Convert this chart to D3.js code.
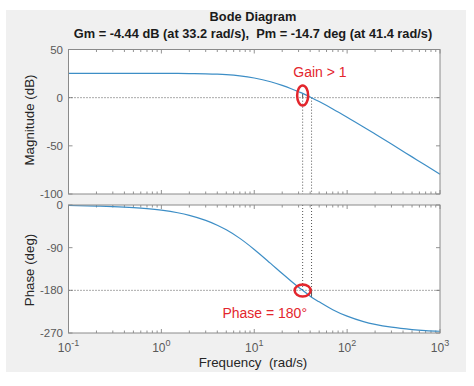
<!DOCTYPE html>
<html>
<head>
<meta charset="utf-8">
<script src="https://cdn.jsdelivr.net/npm/d3@7"></script>
<style>
  body { margin: 0; background: #fff; }
  svg { display: block; font-family: "Liberation Sans", Arial, sans-serif; }
</style>
</head>
<body>
<svg width="474" height="386"></svg>
<script>
// Frequency samples (rad/s) with magnitude (dB) and phase (deg)
var freq  = [0.1, 0.2, 0.3, 0.5, 0.7, 1, 1.5, 2, 3, 4, 5, 7, 10, 15, 20, 25, 30, 33.2, 41.4, 50, 70, 100, 150, 200, 300, 500, 700, 1000];
var mag   = [25.3, 25.3, 25.3, 25.28, 25.27, 25.24, 25.16, 25.05, 24.75, 24.34, 23.84, 22.62, 20.45, 16.55, 12.79, 9.32, 6.16, 4.44, 0, -4.07, -11.68, -20.26, -30.41, -37.76, -48.21, -61.47, -70.21, -79.5];
var phase = [-1.1, -2.2, -3.3, -5.5, -7.7, -11.0, -16.4, -21.8, -32.4, -42.6, -52.4, -70.4, -93.7, -123.2, -144.6, -160.7, -173.3, -180, -194.5, -204.3, -220.8, -234.5, -245.9, -251.8, -257.8, -262.7, -264.8, -266.3];

// Margins
var gmFreq = 33.2, gmDb = 4.44;
var pmFreq = 41.4, pmDeg = -194.7;

// Tick labels
var magTicks = [50, 0, -50, -100];
var phaseTicks = [0, -90, -180, -270];
var decades = [-1, 0, 1, 2, 3];

var svg = d3.select("svg");

// figure background
svg.append("rect")
  .attr("x", 6).attr("y", 10)
  .attr("width", 460).attr("height", 362)
  .attr("fill", "#f0f0f0");

var x = d3.scaleLog().domain([0.1, 1000]).range([68.5, 440]);
var yMag = d3.scaleLinear().domain([-100, 50]).range([194, 49.5]);
var yPh = d3.scaleLinear().domain([-270, 0]).range([333, 205]);

var red = "#e3262d";
var blue = "#3d8ec6";
var tickColor = "#595959";

function drawAxes(y, ticks) {
  var g = svg.append("g");
  var y0 = y.range()[0], y1 = y.range()[1];
  var x0 = x.range()[0], x1 = x.range()[1];

  g.append("rect")
    .attr("x", x0).attr("y", y1)
    .attr("width", x1 - x0).attr("height", y0 - y1)
    .attr("fill", "#fff");

  // x ticks on top and bottom edges
  x.ticks().forEach(function(t) {
    var major = Math.abs(Math.log10(t) - Math.round(Math.log10(t))) < 1e-9;
    var len = major ? 4 : 2.5;
    g.append("line")
      .attr("x1", x(t)).attr("x2", x(t))
      .attr("y1", y0).attr("y2", y0 - len)
      .attr("stroke", "#777").attr("stroke-width", 0.8);
    g.append("line")
      .attr("x1", x(t)).attr("x2", x(t))
      .attr("y1", y1).attr("y2", y1 + len)
      .attr("stroke", "#777").attr("stroke-width", 0.8);
  });

  // y ticks on left and right
  ticks.forEach(function(t) {
    g.append("line")
      .attr("x1", x0).attr("x2", x0 + 4)
      .attr("y1", y(t)).attr("y2", y(t))
      .attr("stroke", "#777").attr("stroke-width", 0.8);
    g.append("line")
      .attr("x1", x1).attr("x2", x1 - 4)
      .attr("y1", y(t)).attr("y2", y(t))
      .attr("stroke", "#777").attr("stroke-width", 0.8);
    g.append("text")
      .attr("x", 63).attr("y", y(t))
      .attr("dy", "0.35em")
      .attr("text-anchor", "end")
      .attr("font-size", 11.5)
      .attr("fill", tickColor)
      .text(t);
  });

  return g;
}

var gMag = drawAxes(yMag, magTicks);
var gPh = drawAxes(yPh, phaseTicks);

function dotted(g, x1, y1, x2, y2) {
  g.append("line")
    .attr("x1", x1).attr("y1", y1).attr("x2", x2).attr("y2", y2)
    .attr("stroke", "#555").attr("stroke-width", 1)
    .attr("stroke-dasharray", "1,2");
}

// margin reference lines
dotted(gMag, x(0.1), yMag(0), x(1000), yMag(0));
dotted(gMag, x(gmFreq), yMag(0), x(gmFreq), yMag(-100));
dotted(gMag, x(pmFreq), yMag(0), x(pmFreq), yMag(-100));
dotted(gPh, x(0.1), yPh(-180), x(1000), yPh(-180));
dotted(gPh, x(gmFreq), yPh(0), x(gmFreq), yPh(-180));
dotted(gPh, x(pmFreq), yPh(0), x(pmFreq), yPh(-180));

// solid margin markers
gMag.append("line")
  .attr("x1", x(gmFreq)).attr("x2", x(gmFreq))
  .attr("y1", yMag(0)).attr("y2", yMag(gmDb))
  .attr("stroke", "#555").attr("stroke-width", 1);
gPh.append("line")
  .attr("x1", x(pmFreq)).attr("x2", x(pmFreq))
  .attr("y1", yPh(-180)).attr("y2", yPh(pmDeg))
  .attr("stroke", "#555").attr("stroke-width", 1);

// curves
var magLine = d3.line()
  .x(function(d, i) { return x(freq[i]); })
  .y(function(d) { return yMag(d); })
  .curve(d3.curveMonotoneX);
var phLine = d3.line()
  .x(function(d, i) { return x(freq[i]); })
  .y(function(d) { return yPh(d); })
  .curve(d3.curveMonotoneX);

gMag.append("path").attr("d", magLine(mag))
  .attr("fill", "none").attr("stroke", blue).attr("stroke-width", 1.2);
gPh.append("path").attr("d", phLine(phase))
  .attr("fill", "none").attr("stroke", blue).attr("stroke-width", 1.2);

// axes borders on top
[yMag, yPh].forEach(function(y) {
  svg.append("rect")
    .attr("x", x.range()[0]).attr("y", y.range()[1])
    .attr("width", x.range()[1] - x.range()[0])
    .attr("height", y.range()[0] - y.range()[1])
    .attr("fill", "none").attr("stroke", "#8a8a8a").attr("stroke-width", 1);
});

// x tick labels (powers of ten)
decades.forEach(function(p) {
  var t = svg.append("text")
    .attr("x", x(Math.pow(10, p)))
    .attr("y", 352)
    .attr("text-anchor", "middle")
    .attr("font-size", 12)
    .attr("fill", tickColor);
  t.append("tspan").text("10");
  t.append("tspan").attr("dy", -6).attr("font-size", 9).text(p);
});

// titles and labels
svg.append("text")
  .attr("x", 253).attr("y", 21)
  .attr("text-anchor", "middle")
  .attr("font-size", 12.8).attr("font-weight", "bold")
  .attr("fill", "#1a1a1a")
  .text("Bode Diagram");
svg.append("text")
  .attr("x", 253).attr("y", 37.5)
  .attr("text-anchor", "middle")
  .attr("font-size", 12.8).attr("font-weight", "bold")
  .attr("fill", "#1a1a1a")
  .attr("xml:space", "preserve")
  .text("Gm = -4.44 dB (at 33.2 rad/s),  Pm = -14.7 deg (at 41.4 rad/s)");

svg.append("text")
  .attr("transform", "translate(34,120) rotate(-90)")
  .attr("text-anchor", "middle")
  .attr("font-size", 13.3)
  .attr("fill", "#262626")
  .text("Magnitude (dB)");
svg.append("text")
  .attr("transform", "translate(34,270) rotate(-90)")
  .attr("text-anchor", "middle")
  .attr("font-size", 13.3)
  .attr("fill", "#262626")
  .text("Phase (deg)");
svg.append("text")
  .attr("x", 253).attr("y", 367)
  .attr("text-anchor", "middle")
  .attr("font-size", 13.3)
  .attr("fill", "#262626")
  .attr("xml:space", "preserve")
  .text("Frequency  (rad/s)");

// red annotations
svg.append("ellipse")
  .attr("cx", x(gmFreq)).attr("cy", 95.5)
  .attr("rx", 5.5).attr("ry", 10)
  .attr("fill", "none").attr("stroke", red).attr("stroke-width", 2.5);
svg.append("text")
  .attr("x", 320).attr("y", 77)
  .attr("text-anchor", "middle")
  .attr("font-size", 14)
  .attr("fill", red)
  .text("Gain > 1");
svg.append("ellipse")
  .attr("cx", x(gmFreq)).attr("cy", 290.5)
  .attr("rx", 8).attr("ry", 6)
  .attr("fill", "none").attr("stroke", red).attr("stroke-width", 2.5);
svg.append("text")
  .attr("x", 307).attr("y", 318)
  .attr("text-anchor", "end")
  .attr("font-size", 14)
  .attr("fill", red)
  .text("Phase = 180°");
</script>
</body>
</html>
